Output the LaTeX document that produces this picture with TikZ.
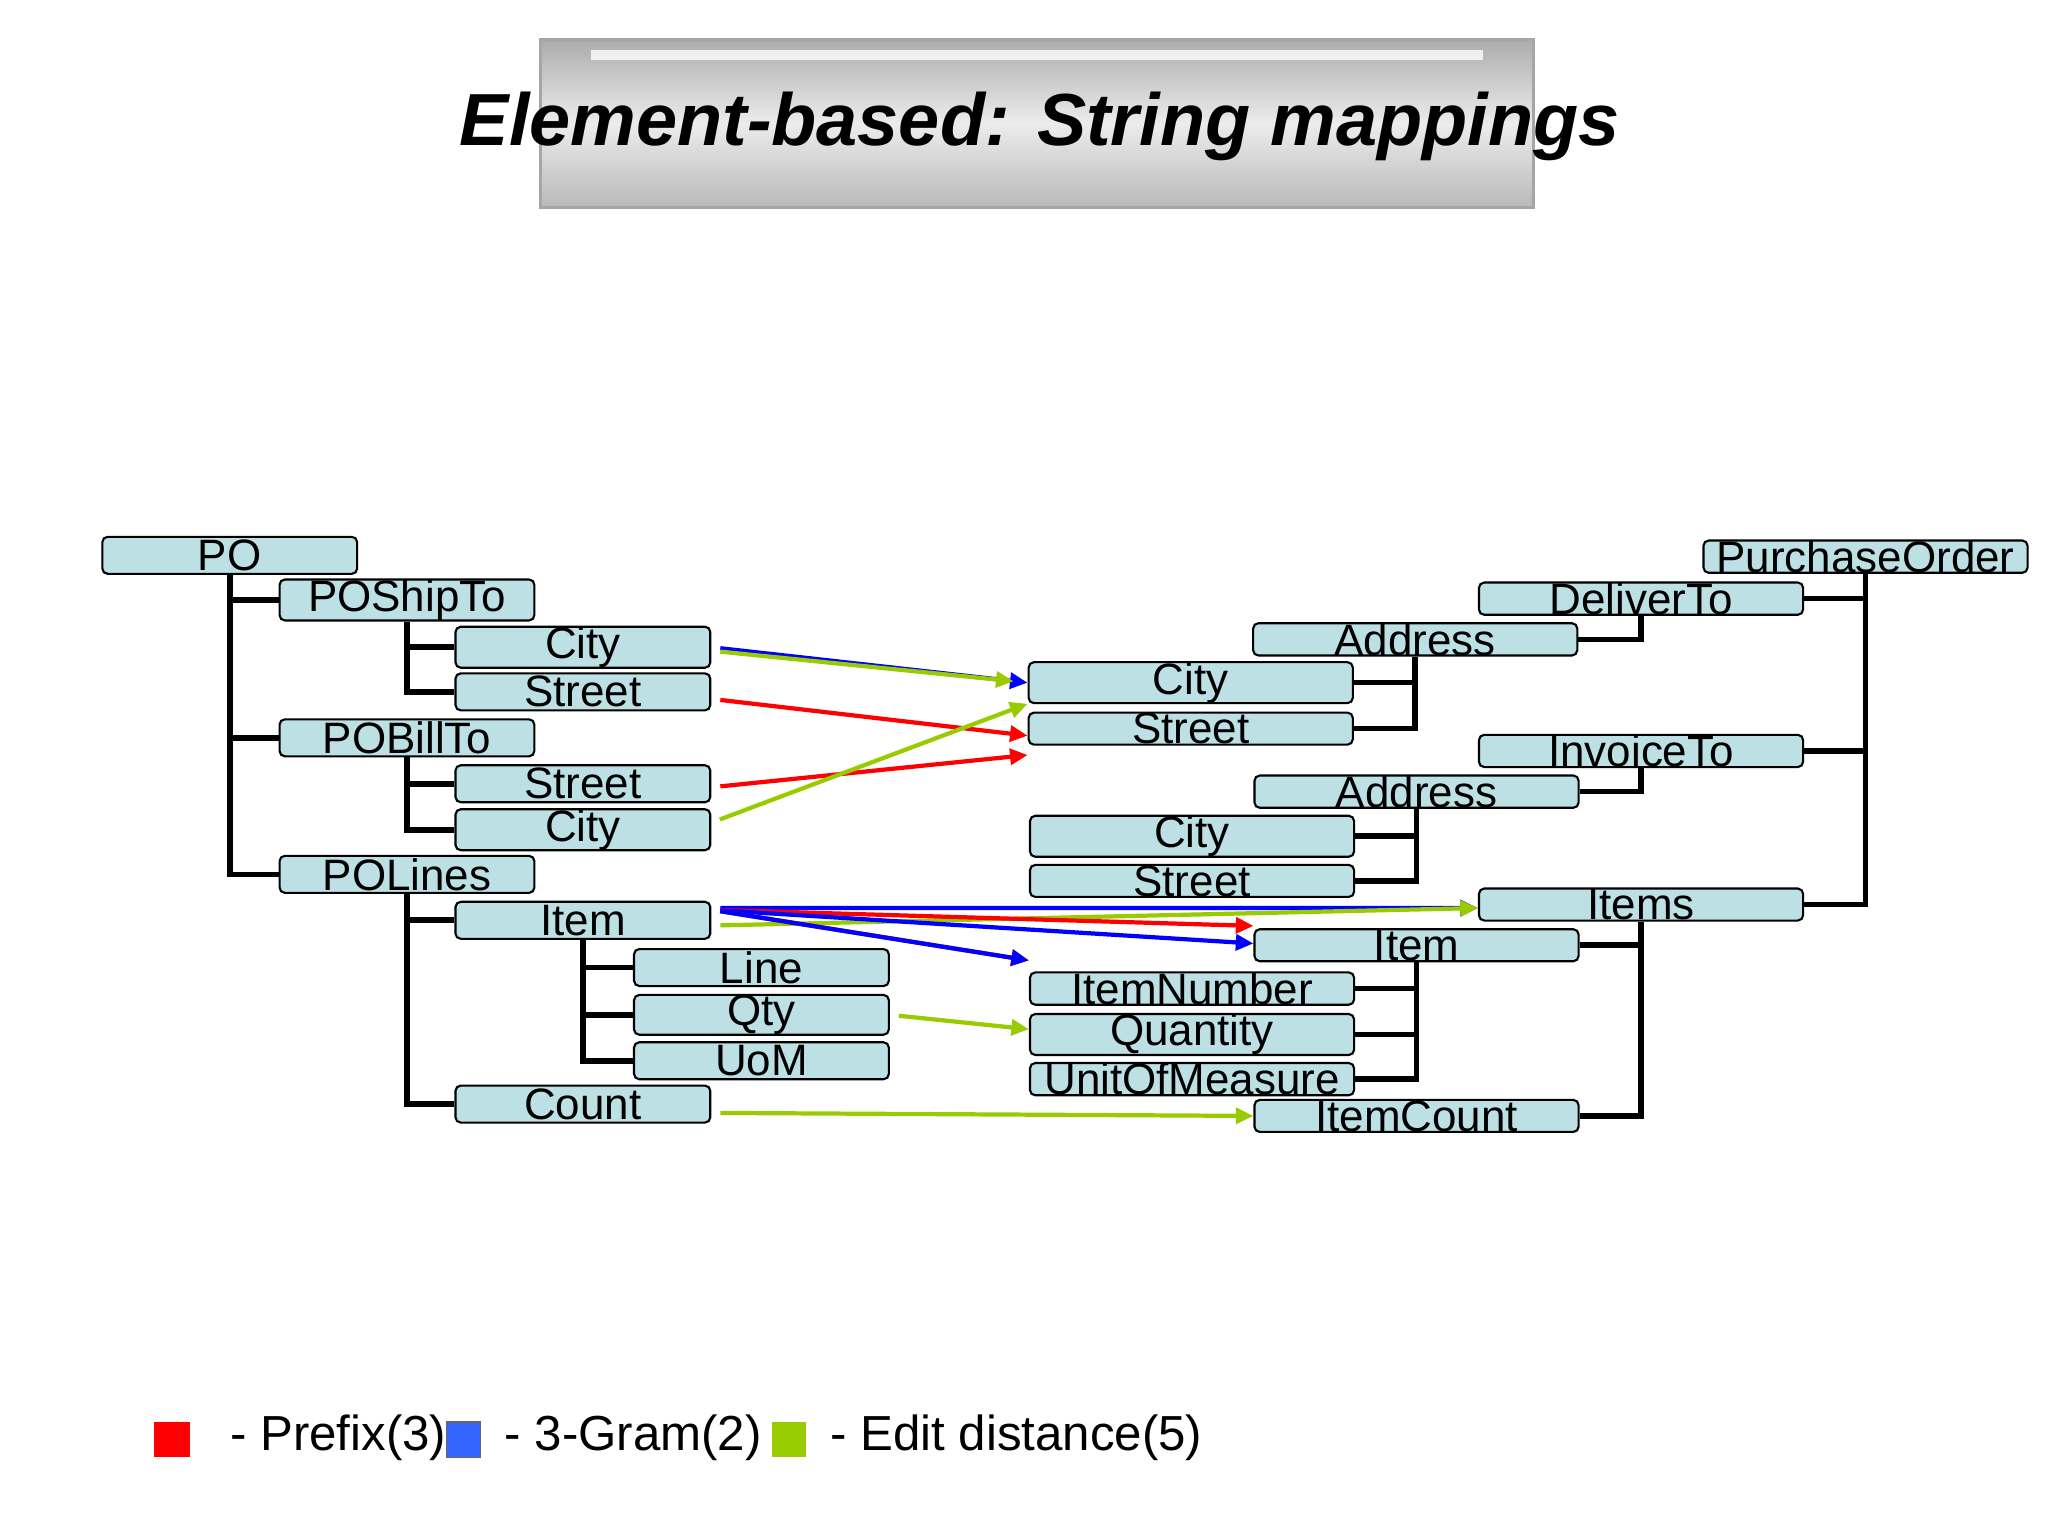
\documentclass[tikz,border=0pt]{standalone}
\usepackage{fontspec}
\setmainfont{Liberation Sans}
\usetikzlibrary{arrows.meta}
\definecolor{boxfill}{RGB}{189,224,228}
\definecolor{pre}{RGB}{255,0,0}
\definecolor{gram}{RGB}{0,0,255}
\definecolor{gramleg}{RGB}{51,102,255}
\definecolor{edit}{RGB}{153,204,0}
\tikzset{
  el/.style={draw=black, fill=boxfill, rounded corners=1.5pt, inner sep=0pt,
    font=\fontsize{12.5}{13}\selectfont, line width=0.6pt},
  lb/.style={el, minimum width=2.547cm, minimum height=0.37cm},
  rb/.style={el, minimum width=3.24cm, minimum height=0.32cm},
  tree/.style={line width=1.6pt},
  map/.style={line width=1.2pt, -{Triangle[length=5pt,width=4.5pt]}, shorten <=0.09cm},
}
\begin{document}
\begin{tikzpicture}[x=0.013128cm, y=-0.013128cm]
\useasboundingbox (0,0) rectangle (1560,1170);
% title
\shade[top color=gray!65, bottom color=gray!55, middle color=gray!15]
  (412,30) rectangle (1168,158);
\fill[white, opacity=0.8] (450,38) rectangle (1130,46);
\draw[gray!70, line width=0.8pt] (412,30) rectangle (1168,158);
\node (title) at (792,96) {\fontsize{21}{24}\selectfont\bfseries\itshape Element-based: String mappings};
% left tree
\node[lb] (PO) at (175,423) {PO};
\node[lb] (POShipTo) at (310,457) {POShipTo};
\node[lb] (LCity1) at (444,493) {City};
\node[lb] (LStreet1) at (444,527) {Street};
\node[lb] (POBillTo) at (310,562) {POBillTo};
\node[lb] (LStreet2) at (444,597) {Street};
\node[lb] (LCity2) at (444,632) {City};
\node[lb] (POLines) at (310,666) {POLines};
\node[lb] (LItem) at (444,701) {Item};
\node[lb] (Line) at (580,737) {Line};
\node[lb] (Qty) at (580,773) {Qty};
\node[lb] (UoM) at (580,808) {UoM};
\node[lb] (Count) at (444,841) {Count};
\draw[tree] (PO.south) |- (POShipTo.west);
\draw[tree] (PO.south) |- (POBillTo.west);
\draw[tree] (PO.south) |- (POLines.west);
\draw[tree] (POShipTo.south) |- (LCity1.west);
\draw[tree] (POShipTo.south) |- (LStreet1.west);
\draw[tree] (POBillTo.south) |- (LStreet2.west);
\draw[tree] (POBillTo.south) |- (LCity2.west);
\draw[tree] (POLines.south) |- (LItem.west);
\draw[tree] (POLines.south) |- (Count.west);
\draw[tree] (LItem.south) |- (Line.west);
\draw[tree] (LItem.south) |- (Qty.west);
\draw[tree] (LItem.south) |- (UoM.west);
% right tree
\node[rb] (PurchaseOrder) at (1421,424) {PurchaseOrder};
\node[rb] (DeliverTo) at (1250,456) {DeliverTo};
\node[rb] (Address1) at (1078,487) {Address};
\node[rb] (RCity1) at (907,520) {City};
\node[rb] (RStreet1) at (907,555) {Street};
\node[rb] (InvoiceTo) at (1250,572) {InvoiceTo};
\node[rb] (Address2) at (1079,603) {Address};
\node[rb] (RCity2) at (908,637) {City};
\node[rb] (RStreet2) at (908,671) {Street};
\node[rb] (Items) at (1250,689) {Items};
\node[rb] (RItem) at (1079,720) {Item};
\node[rb] (ItemNumber) at (908,753) {ItemNumber};
\node[rb] (Quantity) at (908,788) {Quantity};
\node[rb] (UnitOfMeasure) at (908,822) {UnitOfMeasure};
\node[rb] (ItemCount) at (1079,850) {ItemCount};
\draw[tree] (PurchaseOrder.south) |- (DeliverTo.east);
\draw[tree] (PurchaseOrder.south) |- (InvoiceTo.east);
\draw[tree] (PurchaseOrder.south) |- (Items.east);
\draw[tree] (DeliverTo.south) |- (Address1.east);
\draw[tree] (Address1.south) |- (RCity1.east);
\draw[tree] (Address1.south) |- (RStreet1.east);
\draw[tree] (InvoiceTo.south) |- (Address2.east);
\draw[tree] (Address2.south) |- (RCity2.east);
\draw[tree] (Address2.south) |- (RStreet2.east);
\draw[tree] (Items.south) |- (RItem.east);
\draw[tree] (Items.south) |- (ItemCount.east);
\draw[tree] (RItem.south) |- (ItemNumber.east);
\draw[tree] (RItem.south) |- (Quantity.east);
\draw[tree] (RItem.south) |- (UnitOfMeasure.east);
% mappings
\draw[map, gram] (LCity1.east) -- (RCity1.west);
\draw[map, edit, shorten >=4pt] ([yshift=-1pt]LCity1.east) -- (RCity1.west);
\draw[map, pre] ([yshift=-2pt]LStreet1.east) -- ([yshift=-2pt]RStreet1.west);
\draw[map, pre] ([yshift=-1pt]LStreet2.east) -- ([yshift=-7.5pt]RStreet1.west);
\draw[map, edit] ([yshift=2pt]LCity2.east) -- ([yshift=-6pt]RCity1.west);
\draw[map, gram] ([yshift=3.5pt]LItem.east) -- ([yshift=-1pt]Items.west);
\draw[map, edit] ([yshift=-1.5pt]LItem.east) -- ([yshift=-1pt]Items.west);
\draw[map, pre] ([yshift=3pt]LItem.east) -- ([yshift=5.5pt]RItem.west);
\draw[map, gram] ([yshift=3pt]LItem.east) -- ([yshift=0.5pt]RItem.west);
\draw[map, pre] ([yshift=3pt]LItem.east) -- ([yshift=8pt]ItemNumber.west);
\draw[map, gram] ([yshift=3pt]LItem.east) -- ([yshift=8pt]ItemNumber.west);
\draw[map, edit] (Qty.east) -- ([yshift=1.5pt]Quantity.west);
\draw[map, edit] ([yshift=-2.5pt]Count.east) -- (ItemCount.west);
% legend
\fill[pre] (117,1083) rectangle (145,1110);
\fill[gramleg] (340,1083) rectangle (366,1110);
\draw[black!60] (340,1083) rectangle (366,1110);
\fill[edit] (588,1083) rectangle (614,1110);
\node[anchor=west, font=\fontsize{14}{16}\selectfont] (lpre) at (166,1095) {- Prefix(3)};
\node[anchor=west, font=\fontsize{14}{16}\selectfont] (lgram) at (375,1095) {- 3-Gram(2)};
\node[anchor=west, font=\fontsize{14}{16}\selectfont] (ledit) at (623,1095) {- Edit distance(5)};
\end{tikzpicture}
\end{document}
